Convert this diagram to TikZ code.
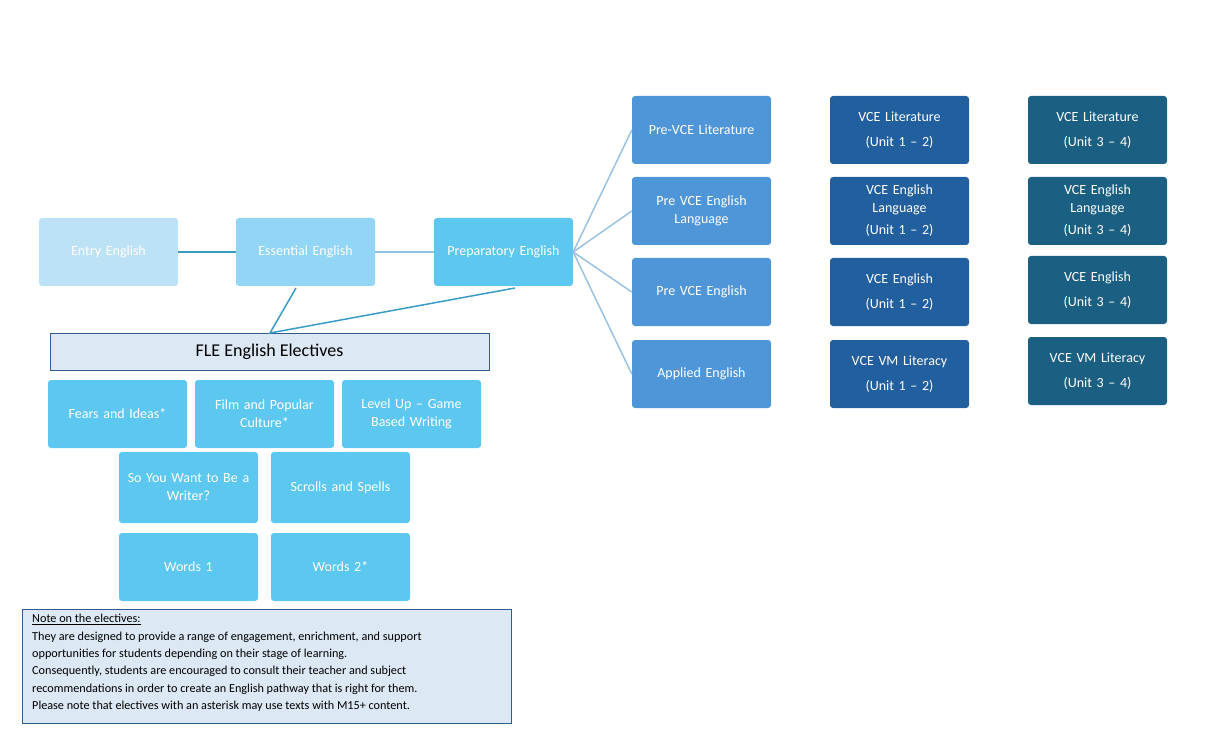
\documentclass[tikz,border=0pt]{standalone}
\usepackage{fontspec}
\setmainfont{Carlito}
\begin{document}
\begin{tikzpicture}[x=1pt,y=-1pt,
 box/.style={rounded corners=3pt,draw=none,text=white,align=center,font=\fontsize{14}{18}\selectfont,minimum width=139pt,minimum height=68pt,inner sep=1pt,text width=137pt},
 ln/.style={line width=1.5pt}]
\definecolor{cEntry}{HTML}{BDE1F5}
\definecolor{cEss}{HTML}{92D5F5}
\definecolor{cPrep}{HTML}{5CC8F0}
\definecolor{cCol2}{HTML}{4F96D8}
\definecolor{cCol3}{HTML}{225F9E}
\definecolor{cCol4}{HTML}{1B6083}
\useasboundingbox (0,0) rectangle (1208,754);
\node[box,fill=cEntry] (entry) at (108.5,252) {Entry English};
\node[box,fill=cEss] (ess) at (305.5,252) {Essential English};
\node[box,fill=cPrep] (prep) at (503.5,252) {Preparatory English};
\node[box,fill=cCol2] (a1) at (701.5,130) {Pre-VCE Literature};
\node[box,fill=cCol2] (a2) at (701.5,211) {Pre VCE English\\Language};
\node[box,fill=cCol2] (a3) at (701.5,292) {Pre VCE English};
\node[box,fill=cCol2] (a4) at (701.5,374) {Applied English};
\node[box,fill=cCol3,font=\fontsize{14}{25}\selectfont] (b1) at (899.5,130) {VCE Literature\\(Unit 1 – 2)};
\node[box,fill=cCol3] (b2) at (899.5,211) {VCE English\\Language\\[4pt](Unit 1 – 2)};
\node[box,fill=cCol3,font=\fontsize{14}{25}\selectfont] (b3) at (899.5,292) {VCE English\\(Unit 1 – 2)};
\node[box,fill=cCol3,font=\fontsize{14}{25}\selectfont] (b4) at (899.5,374) {VCE VM Literacy\\(Unit 1 – 2)};
\node[box,fill=cCol4,font=\fontsize{14}{25}\selectfont] (c1) at (1097.5,130) {VCE Literature\\(Unit 3 – 4)};
\node[box,fill=cCol4] (c2) at (1097.5,211) {VCE English\\Language\\[4pt](Unit 3 – 4)};
\node[box,fill=cCol4,font=\fontsize{14}{25}\selectfont] (c3) at (1097.5,290) {VCE English\\(Unit 3 – 4)};
\node[box,fill=cCol4,font=\fontsize{14}{25}\selectfont] (c4) at (1097.5,371) {VCE VM Literacy\\(Unit 3 – 4)};
\node[draw={rgb,255:red,46;green,95;blue,143},fill={rgb,255:red,220;green,233;blue,245},minimum width=439pt,minimum height=37pt,inner sep=0pt,font=\fontsize{18}{20}\selectfont] (fle) at (269.5,351.5) {FLE English Electives};
\node[box,fill=cPrep] (e1) at (117.5,414) {Fears and Ideas*};
\node[box,fill=cPrep] (e2) at (264.5,414) {Film and Popular\\Culture*};
\node[box,fill=cPrep] (e3) at (411.5,414) {Level Up – Game\\Based Writing};
\node[box,fill=cPrep,minimum height=71pt] (e4) at (188.5,487.5) {So You Want to Be a\\Writer?};
\node[box,fill=cPrep,minimum height=71pt] (e5) at (340.5,487.5) {Scrolls and Spells};
\node[box,fill=cPrep] (e6) at (188.5,567) {Words 1};
\node[box,fill=cPrep] (e7) at (340.5,567) {Words 2*};
\node[draw={rgb,255:red,46;green,95;blue,143},fill={rgb,255:red,220;green,233;blue,245},minimum width=489pt,minimum height=114pt,inner sep=0pt] (note) at (266.5,666) {};
\node[anchor=north west,align=left,inner sep=0pt,font=\fontsize{12.2}{17.4}\selectfont] (notetext) at (32,614) {\underline{Note on the electives:}\\
They are designed to provide a range of engagement, enrichment, and support\\
opportunities for students depending on their stage of learning.\\
Consequently, students are encouraged to consult their teacher and subject\\
recommendations in order to create an English pathway that is right for them.\\
Please note that electives with an asterisk may use texts with M15+ content.};
\draw[ln,color={rgb,255:red,58;green,155;blue,189}] (entry) -- (ess);
\draw[ln,color={rgb,255:red,143;green,195;blue,222}] (ess) -- (prep);
\coordinate (essb) at (296,288);
\coordinate (prepb) at (515,288);
\coordinate (flet) at (270,333);
\draw[ln,color={rgb,255:red,58;green,155;blue,200}] (essb) -- (flet) -- (prepb);
\foreach \t in {a1,a2,a3,a4}
 \draw[ln,color={rgb,255:red,155;green,194;blue,224}] (prep.east) -- (\t.west);
\end{tikzpicture}
\end{document}
